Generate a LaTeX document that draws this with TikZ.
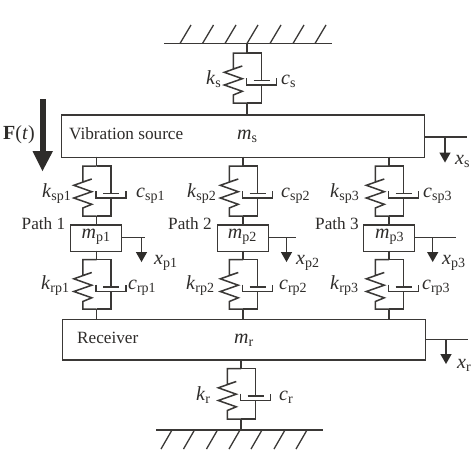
\documentclass[tikz,border=0pt]{standalone}
\usepackage{fontspec}
\setmainfont{Liberation Serif}
\definecolor{ink}{HTML}{3A3836}
\definecolor{txt}{HTML}{2E2C2A}
\newcommand{\lab}[2]{\textit{#1}\raisebox{-0.42ex}{\fontsize{14}{14}\selectfont #2}}
\tikzset{
  ln/.style={draw=ink,line width=1.5pt,line join=miter},
  hatch/.style={draw=ink,line width=1.3pt},
  mass/.style={draw=ink,line width=1.5pt,inner sep=0pt,anchor=north west},
  tx/.style={anchor=base west,inner sep=0pt,text=txt,font=\fontsize{17.2}{19}\selectfont},
  sym/.style={anchor=base west,inner sep=0pt,text=txt,font=\fontsize{20}{22}\selectfont},
}
% #1 prefix, #2 centre x, #3 y of box top, #4 y of box bottom, #5 y of upper end, #6 y of lower end
\newcommand{\kcunit}[6]{%
  \coordinate (#1top) at (#2,#5);
  \coordinate (#1bot) at (#2,#6);
  \coordinate (#1a) at (#2,#3);
  \coordinate (#1b) at (#2,#4);
  \draw[ln] (#1top) -- (#1a);
  \draw[ln] (#1b) -- (#1bot);
  \pgfmathsetmacro{\xl}{#2-13.7}
  \pgfmathsetmacro{\xr}{#2+14.5}
  \pgfmathsetmacro{\ys}{#3+13}
  % spring + left branch
  \draw[ln] (#1a) -- (\xl,#3) -- (\xl,\ys+3) -- (\xl+9,\ys) -- (\xl-9,\ys+6.3) -- (\xl+9,\ys+12.7) -- (\xl-9,\ys+19) -- (\xl+9,\ys+25.3) -- (\xl,\ys+29) -- (\xl,#4) -- (#1b);
  % damper + right branch
  \draw[ln] (#1a) -- (\xr,#3) -- (\xr,#3+27.3);
  \draw[ln] (\xr-8,#3+27.3) -- (\xr+8,#3+27.3);
  \draw[ln] (\xr-15,#3+25) -- (\xr-15,#3+32) -- (\xr+15,#3+32) -- (\xr+15,#3+25);
  \draw[ln] (\xr,#3+32) -- (\xr,#4) -- (#1b);
}
\begin{document}
\begin{tikzpicture}[x=1pt,y=-1pt]
\useasboundingbox[fill=white] (0,0) rectangle (474,474);

% grounds
\coordinate (gtl) at (164,43.5); \coordinate (gtr) at (332,43.5);
\draw[ln] (gtl) -- (gtr);
\foreach \x in {180,202.5,225,247,270,293,315} \draw[hatch] (\x,43.5) -- (\x+11,25);
\coordinate (gbl) at (156,430); \coordinate (gbr) at (323,430);
\draw[ln] (gbl) -- (gbr);
\foreach \x in {172,194.5,217.5,240,262,285,307} \draw[hatch] (\x,430) -- (\x-11,449);

% masses
\node[mass,minimum width=363pt,minimum height=42.5pt] (src) at (60.5,114) {};
\node[mass,minimum width=363pt,minimum height=40.5pt] (rcv) at (61.5,318.5) {};
\node[mass,minimum width=51pt,minimum height=26.5pt] (p1) at (69.5,224) {};
\node[mass,minimum width=51pt,minimum height=26.5pt] (p2) at (216.5,224) {};
\node[mass,minimum width=51pt,minimum height=26.5pt] (p3) at (362.5,224) {};

% spring-damper units
\kcunit{us}{247}{53}{103}{43.5}{114}
\kcunit{a1}{96.5}{166}{216}{156.5}{224}
\kcunit{a2}{243}{166}{216}{156.5}{224}
\kcunit{a3}{389}{166}{216}{156.5}{224}
\kcunit{b1}{96.5}{259.5}{309}{250.5}{318.5}
\kcunit{b2}{243}{259.5}{309}{250.5}{318.5}
\kcunit{b3}{389}{259.5}{309}{250.5}{318.5}
\kcunit{ur}{241}{368.5}{419}{359}{430}

% force arrow
\coordinate (fa) at (42.5,99); \coordinate (fb) at (42.5,152);
\draw[draw=txt,line width=6pt] (fa) -- (fb);
\fill[txt] (32.5,151) -- (53,151) -- (42.5,171) -- cycle;

% displacement markers
\newcommand{\disp}[6]{%
  \coordinate (#1e) at (#4,#3);
  \coordinate (#1j) at (#5,#3);
  \coordinate (#1h) at (#5,#6);
  \draw[ln] (#2.east |- #1e) -- (#1e);
  \draw[ln] (#1j) -- (#1h);
  \fill[txt] (#5-5.7,#6) -- (#5+5.7,#6) -- (#5,#6+10) -- cycle;
}
\disp{ds}{src}{137}{467}{445}{152.5}
\disp{dr}{rcv}{339.7}{468}{446}{354}
\disp{d1}{p1}{237.7}{145}{141.5}{252}
\disp{d2}{p2}{237.7}{295.7}{286.5}{252}
\disp{d3}{p3}{237.7}{455.7}{432.7}{252}

% texts
\node[tx] (t1) at (69,139) {Vibration source};
\node[tx] (t2) at (77,343) {Receiver};
\node[tx] (t3) at (21.5,229) {Path 1};
\node[tx] (t4) at (168,229) {Path 2};
\node[tx] (t5) at (315,229) {Path 3};
\node[sym] (f) at (3,139) {\textbf{F}(\textit{t})};
\node[sym] (ms) at (237,139) {\lab{m}{s}};
\node[sym] (mr) at (234,343) {\lab{m}{r}};
\node[sym] (mp1) at (81.5,238) {\lab{m}{p1}};
\node[sym] (mp2) at (227.7,238) {\lab{m}{p2}};
\node[sym] (mp3) at (375,238) {\lab{m}{p3}};
\node[sym] (ks) at (206,84) {\lab{k}{s}};
\node[sym] (cs) at (281,84) {\lab{c}{s}};
\node[sym] (ksp1) at (42,197) {\lab{k}{sp1}};
\node[sym] (csp1) at (136,197) {\lab{c}{sp1}};
\node[sym] (ksp2) at (187,197) {\lab{k}{sp2}};
\node[sym] (csp2) at (281,197) {\lab{c}{sp2}};
\node[sym] (ksp3) at (330,197) {\lab{k}{sp3}};
\node[sym] (csp3) at (423,197) {\lab{c}{sp3}};
\node[sym] (krp1) at (41,289) {\lab{k}{rp1}};
\node[sym] (crp1) at (128,289) {\lab{c}{rp1}};
\node[sym] (krp2) at (186,289) {\lab{k}{rp2}};
\node[sym] (crp2) at (279,289) {\lab{c}{rp2}};
\node[sym] (krp3) at (330,289) {\lab{k}{rp3}};
\node[sym] (crp3) at (422,289) {\lab{c}{rp3}};
\node[sym] (kr) at (196,400) {\lab{k}{r}};
\node[sym] (cr) at (279,400) {\lab{c}{r}};
\node[sym] (xs) at (455,164) {\lab{x}{s}};
\node[sym] (xr) at (457,368) {\lab{x}{r}};
\node[sym] (xp1) at (154,264) {\lab{x}{p1}};
\node[sym] (xp2) at (296,264) {\lab{x}{p2}};
\node[sym] (xp3) at (442,264) {\lab{x}{p3}};
\end{tikzpicture}
\end{document}
